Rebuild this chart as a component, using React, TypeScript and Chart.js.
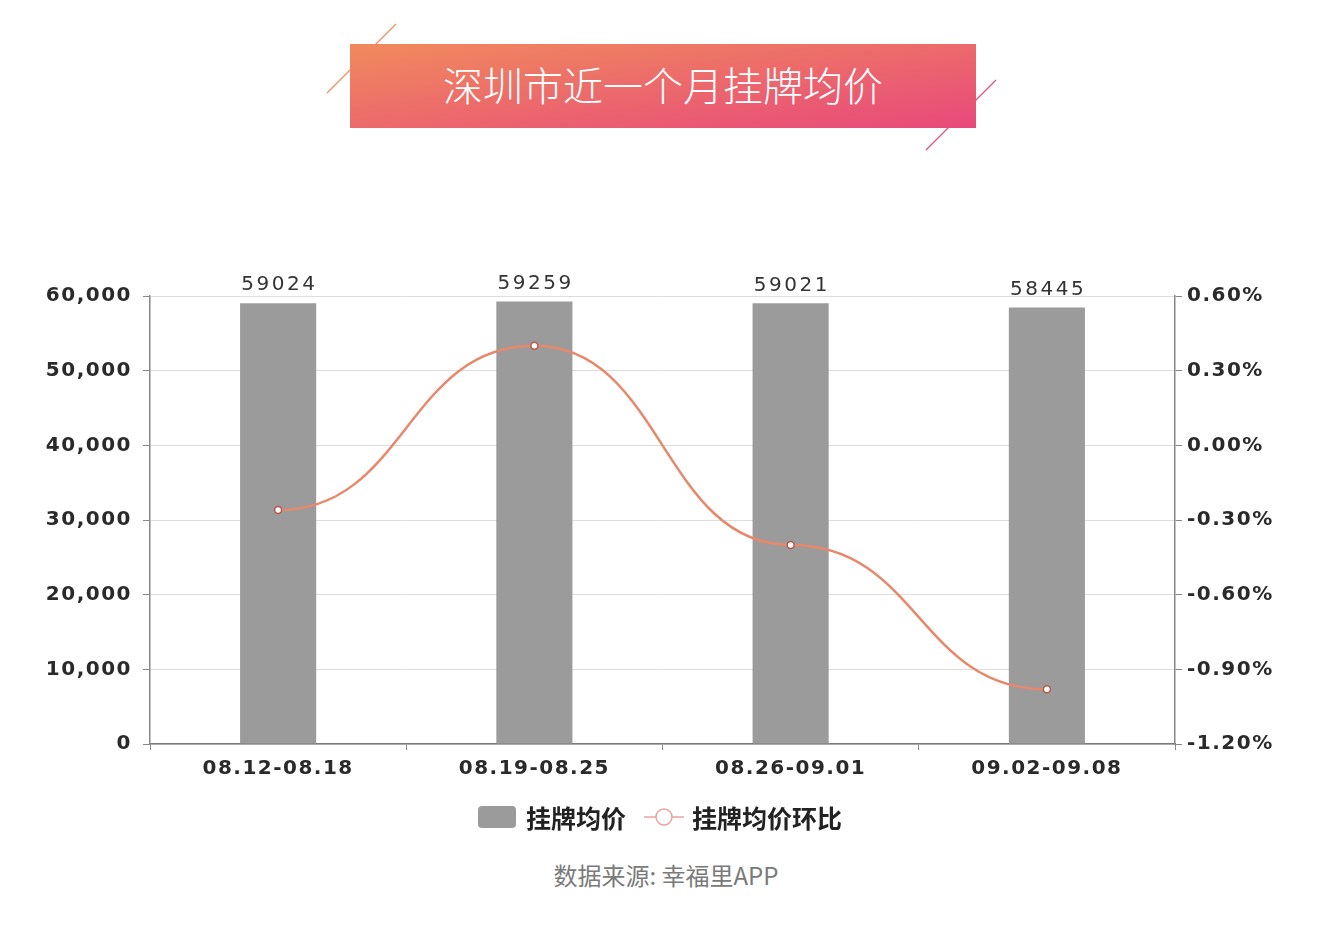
import React, { useEffect, useRef } from "react";
import { Chart, registerables } from "chart.js";

Chart.register(...registerables);

const categories = ["08.12-08.18", "08.19-08.25", "08.26-09.01", "09.02-09.08"];
const avgPrice = [59024, 59259, 59021, 58445];
const momChange = [-0.26, 0.4, -0.4, -0.98];
const seriesNames = ["挂牌均价", "挂牌均价环比"];
const titleText = "深圳市近一个月挂牌均价";
const sourceText = "数据来源: 幸福里APP";

const AXIS_FONT = '"DejaVu Sans", sans-serif';
const CJK_FONT = '"Noto Sans CJK SC", "Noto Sans", sans-serif';

const letterSpacingPlugin = {
  id: "letterSpacing",
  beforeDraw(chart: any) {
    (chart.ctx as any).letterSpacing = "1.5px";
  },
  afterDraw(chart: any) {
    (chart.ctx as any).letterSpacing = "0px";
  },
};

// Smooth curve with horizontal tangents at each point (like the source chart).
const flatCurvePlugin = {
  id: "flatCurve",
  beforeDatasetDraw(chart: any, args: any) {
    const meta = chart.getDatasetMeta(args.index);
    if (meta.type !== "line") return;
    const line = meta.dataset;
    if (line && typeof line.updateControlPoints === "function") {
      line.updateControlPoints(chart.chartArea, "x");
    }
    const pts = meta.data;
    const k = 0.5;
    for (let i = 0; i < pts.length; i++) {
      const p = pts[i];
      const prev = pts[i - 1];
      const next = pts[i + 1];
      p.cp1x = prev ? p.x - (p.x - prev.x) * k : p.x;
      p.cp1y = p.y;
      p.cp2x = next ? p.x + (next.x - p.x) * k : p.x;
      p.cp2y = p.y;
    }
  },
};

const barLabelPlugin = {
  id: "barLabels",
  afterDatasetsDraw(chart: any) {
    const ctx = chart.ctx;
    const meta = chart.getDatasetMeta(1);
    ctx.save();
    (ctx as any).letterSpacing = "2.5px";
    ctx.font = `20px ${AXIS_FONT}`;
    ctx.fillStyle = "#333333";
    ctx.textAlign = "center";
    ctx.textBaseline = "bottom";
    meta.data.forEach((el: any, i: number) => {
      ctx.fillText(String(avgPrice[i]), el.x + 1.25, el.y - 8);
    });
    ctx.restore();
  },
};

function ChartCanvas() {
  const ref = useRef<HTMLCanvasElement | null>(null);
  useEffect(() => {
    if (!ref.current) return;
    const chart = new Chart(ref.current, {
      type: "bar",
      data: {
        labels: categories,
        datasets: [
          {
            type: "line",
            label: seriesNames[1],
            data: momChange,
            yAxisID: "y1",
            borderColor: "#e8886b",
            borderWidth: 2.5,
            tension: 0.4,
            pointRadius: 3.5,
            pointBackgroundColor: "#ffffff",
            pointBorderColor: "#b8574c",
            pointBorderWidth: 1.5,
            order: 0,
          } as any,
          {
            type: "bar",
            label: seriesNames[0],
            data: avgPrice,
            yAxisID: "y",
            backgroundColor: "#9b9b9b",
            barPercentage: 0.297,
            categoryPercentage: 1,
            order: 1,
          },
        ],
      },
      options: {
        responsive: false,
        animation: false,
        layout: { padding: { top: 46, left: 0, right: 0, bottom: 0 } },
        plugins: {
          legend: { display: false },
          tooltip: { enabled: false },
          title: { display: false },
        },
        scales: {
          x: {
            offset: true,
            grid: {
              offset: true,
              drawOnChartArea: false,
              drawTicks: true,
              tickLength: 6,
              tickColor: "#888888",
            },
            border: { color: "#7a7a7a", width: 1.5 },
            ticks: {
              color: "#2a2a2a",
              font: { family: AXIS_FONT, size: 20, weight: "bold" },
              padding: 7,
              maxRotation: 0,
              autoSkip: false,
            },
            afterFit: (s: any) => {
              s.height = 56;
            },
          },
          y: {
            position: "left",
            min: 0,
            max: 60000,
            ticks: {
              stepSize: 10000,
              color: "#2a2a2a",
              font: { family: AXIS_FONT, size: 20, weight: "bold" },
              padding: 11,
              callback: (v: any) => Number(v).toLocaleString("en-US"),
            },
            grid: {
              color: "#dddddd",
              tickColor: "#888888",
              tickLength: 7,
            },
            border: { color: "#888888", width: 1.5 },
            afterFit: (s: any) => {
              s.width = 150;
            },
          },
          y1: {
            position: "right",
            min: -1.2,
            max: 0.6,
            ticks: {
              stepSize: 0.3,
              color: "#2a2a2a",
              font: { family: AXIS_FONT, size: 20, weight: "bold" },
              padding: 5,
              callback: (v: any) => Number(v).toFixed(2) + "%",
            },
            grid: {
              drawOnChartArea: false,
              tickColor: "#888888",
              tickLength: 7,
            },
            border: { color: "#888888", width: 1.5 },
            afterFit: (s: any) => {
              s.width = 157;
            },
          },
        },
      } as any,
      plugins: [letterSpacingPlugin, flatCurvePlugin, barLabelPlugin],
    });
    return () => chart.destroy();
  }, []);
  return (
    <canvas
      ref={ref}
      width={1332}
      height={550}
      style={{ position: "absolute", left: 0, top: 250, width: 1332, height: 550 }}
    />
  );
}

export default function App() {
  return (
    <div
      style={{
        position: "absolute",
        left: 0,
        top: 0,
        width: 1332,
        height: 932,
        background: "#ffffff",
        overflow: "hidden",
      }}
    >
      <svg
        width={1332}
        height={200}
        style={{ position: "absolute", left: 0, top: 0 }}
      >
        <defs>
          <linearGradient id="bannerGrad" x1="0" y1="0" x2="1" y2="1">
            <stop offset="0%" stopColor="#f08a5c" />
            <stop offset="100%" stopColor="#e8497b" />
          </linearGradient>
        </defs>
        <line x1={327} y1={93} x2={396} y2={24} stroke="#f0905f" strokeWidth={1.2} />
        <line x1={926} y1={150} x2={996} y2={80} stroke="#e8507a" strokeWidth={1.2} />
        <rect x={350} y={44} width={626} height={84} fill="url(#bannerGrad)" />
      </svg>
      <div
        style={{
          position: "absolute",
          left: 350,
          top: 42,
          width: 626,
          height: 84,
          display: "flex",
          alignItems: "center",
          justifyContent: "center",
          color: "#ffffff",
          fontFamily: CJK_FONT,
          fontSize: 40,
          fontWeight: 300,
          lineHeight: 1,
        }}
      >
        {titleText}
      </div>
      <ChartCanvas />
      <div
        style={{
          position: "absolute",
          left: 478,
          top: 804,
          height: 26,
          display: "flex",
          alignItems: "center",
          fontFamily: CJK_FONT,
          fontSize: 25,
          fontWeight: 700,
          color: "#222222",
          whiteSpace: "nowrap",
        }}
      >
        <span
          style={{
            display: "inline-block",
            width: 38,
            height: 22,
            borderRadius: 4,
            background: "#9b9b9b",
            marginRight: 10,
          }}
        />
        <span>{seriesNames[0]}</span>
        <svg width={40} height={26} style={{ marginLeft: 18, marginRight: 8 }}>
          <line x1={0} y1={13} x2={40} y2={13} stroke="#e9a3a0" strokeWidth={1.5} />
          <circle cx={20} cy={13} r={8} fill="#ffffff" stroke="#e9a3a0" strokeWidth={1.5} />
        </svg>
        <span>{seriesNames[1]}</span>
      </div>
      <div
        style={{
          position: "absolute",
          left: 0,
          width: 1332,
          top: 859,
          textAlign: "center",
          fontFamily: CJK_FONT,
          fontSize: 24,
          color: "#7a7a7a",
          lineHeight: "32px",
        }}
      >
        {sourceText}
      </div>
    </div>
  );
}
